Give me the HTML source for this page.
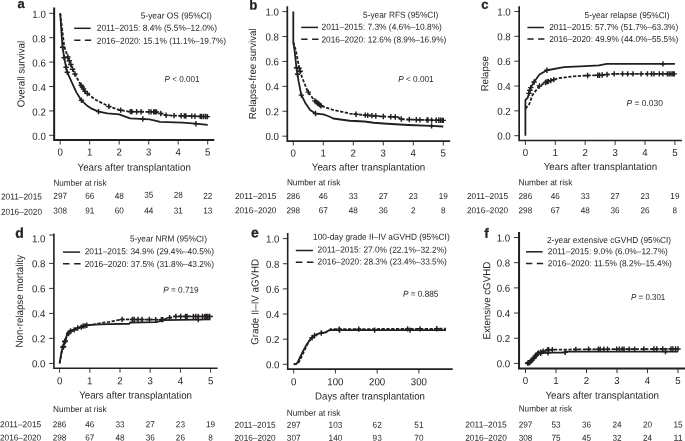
<!DOCTYPE html>
<html lang="en">
<head>
<meta charset="utf-8">
<title>Survival outcomes by transplantation period</title>
<style>
html,body{margin:0;padding:0;background:#fff;}
body{width:685px;height:441px;overflow:hidden;}
svg{display:block;}
svg text{font-family:"Liberation Sans",Arial,Helvetica,sans-serif;fill:#231f20;text-rendering:geometricPrecision;}
</style>
</head>
<body>
<svg width="685" height="441" viewBox="0 0 685 441">
<rect x="0" y="0" width="685" height="441" fill="#ffffff"/>
<g id="panel-a">
<path d="M54.15 7.50V139.90H214.30" fill="none" stroke="#231f20" stroke-width="2.0" stroke-linejoin="miter"/>
<path d="M49.15 135.30H54.15M49.15 110.90H54.15M49.15 86.50H54.15M49.15 62.10H54.15M49.15 37.70H54.15M49.15 13.30H54.15M60.20 139.90V144.50M89.70 139.90V144.50M119.20 139.90V144.50M148.70 139.90V144.50M178.20 139.90V144.50M207.70 139.90V144.50" fill="none" stroke="#231f20" stroke-width="0.9"/>
<text x="32.37" y="139.80" font-size="10.2" textLength="13.48" lengthAdjust="spacingAndGlyphs" transform="rotate(0.03 32.37 139.80)">0.0</text>
<text x="32.37" y="115.40" font-size="10.2" textLength="13.48" lengthAdjust="spacingAndGlyphs" transform="rotate(0.03 32.37 115.40)">0.2</text>
<text x="32.37" y="91.00" font-size="10.2" textLength="13.48" lengthAdjust="spacingAndGlyphs" transform="rotate(0.03 32.37 91.00)">0.4</text>
<text x="32.37" y="66.60" font-size="10.2" textLength="13.48" lengthAdjust="spacingAndGlyphs" transform="rotate(0.03 32.37 66.60)">0.6</text>
<text x="32.37" y="42.20" font-size="10.2" textLength="13.48" lengthAdjust="spacingAndGlyphs" transform="rotate(0.03 32.37 42.20)">0.8</text>
<text x="32.37" y="17.80" font-size="10.2" textLength="13.48" lengthAdjust="spacingAndGlyphs" transform="rotate(0.03 32.37 17.80)">1.0</text>
<text x="57.50" y="155.60" font-size="10.2" textLength="5.39" lengthAdjust="spacingAndGlyphs" transform="rotate(0.03 57.50 155.60)">0</text>
<text x="87.00" y="155.60" font-size="10.2" textLength="5.39" lengthAdjust="spacingAndGlyphs" transform="rotate(0.03 87.00 155.60)">1</text>
<text x="116.50" y="155.60" font-size="10.2" textLength="5.39" lengthAdjust="spacingAndGlyphs" transform="rotate(0.03 116.50 155.60)">2</text>
<text x="146.00" y="155.60" font-size="10.2" textLength="5.39" lengthAdjust="spacingAndGlyphs" transform="rotate(0.03 146.00 155.60)">3</text>
<text x="175.50" y="155.60" font-size="10.2" textLength="5.39" lengthAdjust="spacingAndGlyphs" transform="rotate(0.03 175.50 155.60)">4</text>
<text x="205.00" y="155.60" font-size="10.2" textLength="5.39" lengthAdjust="spacingAndGlyphs" transform="rotate(0.03 205.00 155.60)">5</text>
<path d="M60.20 13.30L62.41 46.24L64.21 57.71L66.90 71.37L71.70 82.23L76.43 92.36L81.15 100.04L86.75 105.41L92.21 108.95L98.55 111.63L107.40 113.34L119.20 114.32L130.12 118.40L149.58 119.32L160.21 121.94L182.62 122.61L195.61 123.65L207.70 124.93" fill="none" stroke="#231f20" stroke-width="1.8" stroke-linejoin="round"/>
<path d="M62.56 44.48v5.4M59.86 47.18h5.4M64.21 55.01v5.4M61.51 57.71h5.4M66.10 64.62v5.4M63.40 67.32h5.4M67.28 69.54v5.4M64.58 72.24h5.4M81.44 97.62v5.4M78.74 100.32h5.4M98.55 108.93v5.4M95.85 111.63h5.4M142.80 116.30v5.4M140.10 119.00h5.4M195.90 120.98v5.4M193.20 123.68h5.4" fill="none" stroke="#231f20" stroke-width="1.45"/>
<path d="M60.20 13.30L64.21 46.24L67.58 56.24L72.89 69.91L78.49 80.89L85.28 91.87L94.72 99.31L108.88 106.51L119.20 109.92L130.12 111.63L156.37 111.88L161.98 113.95L166.69 115.41L184.10 115.90L207.70 116.63" fill="none" stroke="#231f20" stroke-width="1.8" stroke-linejoin="round" stroke-dasharray="3.2 1.6"/>
<path d="M67.87 54.30v5.4M65.17 57.00h5.4M69.34 58.10v5.4M66.64 60.80h5.4M70.82 61.89v5.4M68.12 64.59h5.4M72.59 66.45v5.4M69.89 69.15h5.4M74.95 71.25v5.4M72.25 73.95h5.4M81.15 82.48v5.4M78.45 85.18h5.4M82.33 84.39v5.4M79.62 87.09h5.4M83.50 86.30v5.4M80.80 89.00h5.4M84.98 88.69v5.4M82.28 91.39h5.4M87.34 90.80v5.4M84.64 93.50h5.4M108.88 103.81v5.4M106.17 106.51h5.4M120.67 107.45v5.4M117.97 110.15h5.4M130.41 108.93v5.4M127.71 111.63h5.4M131.88 108.95v5.4M129.19 111.65h5.4M136.61 108.99v5.4M133.91 111.69h5.4M141.03 109.03v5.4M138.33 111.73h5.4M149.00 109.11v5.4M146.30 111.81h5.4M151.06 109.13v5.4M148.36 111.83h5.4M153.72 109.15v5.4M151.02 111.85h5.4M154.89 109.16v5.4M152.19 111.86h5.4M156.37 109.18v5.4M153.67 111.88h5.4M160.80 110.81v5.4M158.10 113.51h5.4M166.11 112.53v5.4M163.41 115.23h5.4M174.07 112.92v5.4M171.37 115.62h5.4M181.15 113.12v5.4M178.45 115.82h5.4M184.39 113.21v5.4M181.69 115.91h5.4M185.87 113.26v5.4M183.17 115.96h5.4M191.77 113.44v5.4M189.07 116.14h5.4M195.01 113.54v5.4M192.31 116.24h5.4M200.32 113.71v5.4M197.62 116.41h5.4M201.50 113.74v5.4M198.81 116.44h5.4M203.57 113.81v5.4M200.87 116.51h5.4M205.63 113.87v5.4M202.94 116.57h5.4M207.41 113.92v5.4M204.71 116.62h5.4" fill="none" stroke="#231f20" stroke-width="1.45"/>
<text x="17.50" y="8.00" font-size="13" font-weight="bold" transform="rotate(0.03 17.50 8.00)" stroke="#231f20" stroke-width="0.25">a</text>
<text x="24.40" y="74.00" font-size="10.2" text-anchor="middle" textLength="66.30" lengthAdjust="spacingAndGlyphs" transform="rotate(-89.97 24.40 74.00)">Overall survival</text>
<text x="77.60" y="170.80" font-size="10.2" textLength="113.20" lengthAdjust="spacingAndGlyphs" transform="rotate(0.03 77.60 170.80)">Years after transplantation</text>
<text x="140.70" y="18.40" font-size="8.7" textLength="71.20" lengthAdjust="spacingAndGlyphs" transform="rotate(0.03 140.70 18.40)">5-year OS (95%CI)</text>
<text x="96.80" y="30.80" font-size="8.7" textLength="120.30" lengthAdjust="spacingAndGlyphs" transform="rotate(0.03 96.80 30.80)">2011–2015: 8.4% (5.5%–12.0%)</text>
<text x="96.80" y="43.70" font-size="8.7" textLength="129.30" lengthAdjust="spacingAndGlyphs" transform="rotate(0.03 96.80 43.70)">2016–2020: 15.1% (11.1%–19.7%)</text>
<path d="M74.20 28.30H90.70" stroke="#231f20" stroke-width="1.5" fill="none"/>
<path d="M74.20 40.20H80.47M84.92 40.20H91.20" stroke="#231f20" stroke-width="1.5" fill="none"/>
<text x="164.60" y="81.90" font-size="8.7" textLength="34.90" lengthAdjust="spacingAndGlyphs" transform="rotate(0.03 164.60 81.90)"><tspan font-style="italic">P</tspan> &lt; 0.001</text>
<text x="53.40" y="185.70" font-size="8.6" textLength="53.10" lengthAdjust="spacingAndGlyphs" transform="rotate(0.03 53.40 185.70)">Number at risk</text>
<text x="0.90" y="199.40" font-size="8.6" textLength="41.10" lengthAdjust="spacingAndGlyphs" transform="rotate(0.03 0.90 199.40)">2011–2015</text>
<text x="53.36" y="198.70" font-size="8.6" textLength="13.68" lengthAdjust="spacingAndGlyphs" transform="rotate(0.03 53.36 198.70)">297</text>
<text x="85.14" y="198.70" font-size="8.6" textLength="9.12" lengthAdjust="spacingAndGlyphs" transform="rotate(0.03 85.14 198.70)">66</text>
<text x="114.64" y="198.70" font-size="8.6" textLength="9.12" lengthAdjust="spacingAndGlyphs" transform="rotate(0.03 114.64 198.70)">48</text>
<text x="144.14" y="197.70" font-size="8.6" textLength="9.12" lengthAdjust="spacingAndGlyphs" transform="rotate(0.03 144.14 197.70)">35</text>
<text x="173.64" y="197.70" font-size="8.6" textLength="9.12" lengthAdjust="spacingAndGlyphs" transform="rotate(0.03 173.64 197.70)">28</text>
<text x="203.14" y="198.70" font-size="8.6" textLength="9.12" lengthAdjust="spacingAndGlyphs" transform="rotate(0.03 203.14 198.70)">22</text>
<text x="0.90" y="214.80" font-size="8.6" textLength="41.10" lengthAdjust="spacingAndGlyphs" transform="rotate(0.03 0.90 214.80)">2016–2020</text>
<text x="53.36" y="213.60" font-size="8.6" textLength="13.68" lengthAdjust="spacingAndGlyphs" transform="rotate(0.03 53.36 213.60)">308</text>
<text x="85.14" y="213.60" font-size="8.6" textLength="9.12" lengthAdjust="spacingAndGlyphs" transform="rotate(0.03 85.14 213.60)">91</text>
<text x="114.64" y="213.60" font-size="8.6" textLength="9.12" lengthAdjust="spacingAndGlyphs" transform="rotate(0.03 114.64 213.60)">60</text>
<text x="144.14" y="213.60" font-size="8.6" textLength="9.12" lengthAdjust="spacingAndGlyphs" transform="rotate(0.03 144.14 213.60)">44</text>
<text x="173.64" y="213.60" font-size="8.6" textLength="9.12" lengthAdjust="spacingAndGlyphs" transform="rotate(0.03 173.64 213.60)">31</text>
<text x="203.14" y="213.60" font-size="8.6" textLength="9.12" lengthAdjust="spacingAndGlyphs" transform="rotate(0.03 203.14 213.60)">13</text>
</g>
<g id="panel-b">
<path d="M287.30 6.30V141.00H450.20" fill="none" stroke="#231f20" stroke-width="1.75" stroke-linejoin="miter"/>
<path d="M282.43 136.20H287.30M282.43 111.28H287.30M282.43 86.36H287.30M282.43 61.44H287.30M282.43 36.52H287.30M282.43 11.60H287.30M293.30 141.00V145.47M323.30 141.00V145.47M353.30 141.00V145.47M383.30 141.00V145.47M413.30 141.00V145.47M443.30 141.00V145.47" fill="none" stroke="#231f20" stroke-width="0.9"/>
<text x="265.42" y="140.10" font-size="10.2" textLength="13.48" lengthAdjust="spacingAndGlyphs" transform="rotate(0.03 265.42 140.10)">0.0</text>
<text x="265.42" y="115.18" font-size="10.2" textLength="13.48" lengthAdjust="spacingAndGlyphs" transform="rotate(0.03 265.42 115.18)">0.2</text>
<text x="265.42" y="90.26" font-size="10.2" textLength="13.48" lengthAdjust="spacingAndGlyphs" transform="rotate(0.03 265.42 90.26)">0.4</text>
<text x="265.42" y="65.34" font-size="10.2" textLength="13.48" lengthAdjust="spacingAndGlyphs" transform="rotate(0.03 265.42 65.34)">0.6</text>
<text x="265.42" y="40.42" font-size="10.2" textLength="13.48" lengthAdjust="spacingAndGlyphs" transform="rotate(0.03 265.42 40.42)">0.8</text>
<text x="265.42" y="15.50" font-size="10.2" textLength="13.48" lengthAdjust="spacingAndGlyphs" transform="rotate(0.03 265.42 15.50)">1.0</text>
<text x="290.60" y="156.40" font-size="10.2" textLength="5.39" lengthAdjust="spacingAndGlyphs" transform="rotate(0.03 290.60 156.40)">0</text>
<text x="320.60" y="156.40" font-size="10.2" textLength="5.39" lengthAdjust="spacingAndGlyphs" transform="rotate(0.03 320.60 156.40)">1</text>
<text x="350.60" y="156.40" font-size="10.2" textLength="5.39" lengthAdjust="spacingAndGlyphs" transform="rotate(0.03 350.60 156.40)">2</text>
<text x="380.60" y="156.40" font-size="10.2" textLength="5.39" lengthAdjust="spacingAndGlyphs" transform="rotate(0.03 380.60 156.40)">3</text>
<text x="410.60" y="156.40" font-size="10.2" textLength="5.39" lengthAdjust="spacingAndGlyphs" transform="rotate(0.03 410.60 156.40)">4</text>
<text x="440.60" y="156.40" font-size="10.2" textLength="5.39" lengthAdjust="spacingAndGlyphs" transform="rotate(0.03 440.60 156.40)">5</text>
<path d="M293.30 11.60L293.30 42.13L294.50 50.23L296.51 67.79L298.61 81.38L301.31 94.96L305.39 103.06L310.10 109.91L315.50 113.52L323.30 114.39L328.70 116.26L333.20 118.51L349.70 120.75L364.40 121.50L373.70 122.74L387.20 123.74L408.50 124.99L431.30 125.86L443.30 126.48" fill="none" stroke="#231f20" stroke-width="1.8" stroke-linejoin="round"/>
<path d="M296.51 65.09v5.4M293.81 67.79h5.4M297.50 71.50v5.4M294.80 74.20h5.4M301.40 92.44v5.4M298.70 95.14h5.4M315.50 110.82v5.4M312.80 113.52h5.4M431.60 123.17v5.4M428.90 125.87h5.4" fill="none" stroke="#231f20" stroke-width="1.45"/>
<path d="M293.30 42.13L295.79 50.23L299.21 67.79L302.00 77.26L307.40 90.85L314.21 100.32L320.99 105.80L331.91 109.54L349.70 113.52L365.00 115.14L382.10 116.39L397.85 117.14L401.90 119.38L426.20 120.00L443.30 120.38" fill="none" stroke="#231f20" stroke-width="1.8" stroke-linejoin="round" stroke-dasharray="3.2 1.6"/>
<path d="M299.30 65.40v5.4M296.60 68.10h5.4M300.20 68.45v5.4M297.50 71.15h5.4M308.30 89.40v5.4M305.60 92.10h5.4M314.90 98.17v5.4M312.20 100.87h5.4M316.40 99.39v5.4M313.70 102.09h5.4M317.90 100.60v5.4M315.20 103.30h5.4M319.40 101.81v5.4M316.70 104.51h5.4M320.90 103.02v5.4M318.20 105.72h5.4M356.00 111.49v5.4M353.30 114.19h5.4M365.30 112.46v5.4M362.60 115.16h5.4M367.70 112.64v5.4M365.00 115.34h5.4M371.90 112.95v5.4M369.20 115.65h5.4M375.80 113.23v5.4M373.10 115.93h5.4M383.30 113.75v5.4M380.60 116.45h5.4M390.80 114.10v5.4M388.10 116.80h5.4M395.30 114.32v5.4M392.60 117.02h5.4M401.30 116.35v5.4M398.60 119.05h5.4M409.40 116.87v5.4M406.70 119.57h5.4M416.30 117.05v5.4M413.60 119.75h5.4M419.90 117.14v5.4M417.20 119.84h5.4M427.10 117.32v5.4M424.40 120.02h5.4M428.00 117.34v5.4M425.30 120.04h5.4M431.60 117.42v5.4M428.90 120.12h5.4M436.10 117.52v5.4M433.40 120.22h5.4M438.80 117.58v5.4M436.10 120.28h5.4M440.60 117.62v5.4M437.90 120.32h5.4M442.40 117.66v5.4M439.70 120.36h5.4M443.30 117.68v5.4M440.60 120.38h5.4" fill="none" stroke="#231f20" stroke-width="1.45"/>
<text x="249.30" y="9.50" font-size="13.3" font-weight="bold" transform="rotate(0.03 249.30 9.50)" stroke="#231f20" stroke-width="0.25">b</text>
<text x="256.00" y="73.80" font-size="10.2" text-anchor="middle" textLength="90.80" lengthAdjust="spacingAndGlyphs" transform="rotate(-89.97 256.00 73.80)">Relapse-free survival</text>
<text x="311.80" y="170.40" font-size="10.2" textLength="113.50" lengthAdjust="spacingAndGlyphs" transform="rotate(0.03 311.80 170.40)">Years after transplantation</text>
<text x="363.00" y="17.70" font-size="8.7" textLength="75.40" lengthAdjust="spacingAndGlyphs" transform="rotate(0.03 363.00 17.70)">5-year RFS (95%CI)</text>
<text x="321.50" y="29.80" font-size="8.7" textLength="120.40" lengthAdjust="spacingAndGlyphs" transform="rotate(0.03 321.50 29.80)">2011–2015: 7.3% (4.6%–10.8%)</text>
<text x="321.50" y="42.50" font-size="8.7" textLength="124.80" lengthAdjust="spacingAndGlyphs" transform="rotate(0.03 321.50 42.50)">2016–2020: 12.6% (8.9%–16.9%)</text>
<path d="M301.20 27.40H318.00" stroke="#231f20" stroke-width="1.5" fill="none"/>
<path d="M301.20 39.20H307.58M312.12 39.20H318.50" stroke="#231f20" stroke-width="1.5" fill="none"/>
<text x="398.30" y="81.90" font-size="8.7" textLength="35.40" lengthAdjust="spacingAndGlyphs" transform="rotate(0.03 398.30 81.90)"><tspan font-style="italic">P</tspan> &lt; 0.001</text>
<text x="286.90" y="185.30" font-size="8.6" textLength="53.50" lengthAdjust="spacingAndGlyphs" transform="rotate(0.03 286.90 185.30)">Number at risk</text>
<text x="234.90" y="198.90" font-size="8.6" textLength="41.50" lengthAdjust="spacingAndGlyphs" transform="rotate(0.03 234.90 198.90)">2011–2015</text>
<text x="286.46" y="198.90" font-size="8.6" textLength="13.68" lengthAdjust="spacingAndGlyphs" transform="rotate(0.03 286.46 198.90)">286</text>
<text x="318.74" y="198.90" font-size="8.6" textLength="9.12" lengthAdjust="spacingAndGlyphs" transform="rotate(0.03 318.74 198.90)">46</text>
<text x="348.74" y="198.90" font-size="8.6" textLength="9.12" lengthAdjust="spacingAndGlyphs" transform="rotate(0.03 348.74 198.90)">33</text>
<text x="378.74" y="198.90" font-size="8.6" textLength="9.12" lengthAdjust="spacingAndGlyphs" transform="rotate(0.03 378.74 198.90)">27</text>
<text x="408.74" y="198.90" font-size="8.6" textLength="9.12" lengthAdjust="spacingAndGlyphs" transform="rotate(0.03 408.74 198.90)">23</text>
<text x="438.74" y="198.90" font-size="8.6" textLength="9.12" lengthAdjust="spacingAndGlyphs" transform="rotate(0.03 438.74 198.90)">19</text>
<text x="234.90" y="213.20" font-size="8.6" textLength="41.50" lengthAdjust="spacingAndGlyphs" transform="rotate(0.03 234.90 213.20)">2016–2020</text>
<text x="286.46" y="213.20" font-size="8.6" textLength="13.68" lengthAdjust="spacingAndGlyphs" transform="rotate(0.03 286.46 213.20)">298</text>
<text x="318.74" y="213.20" font-size="8.6" textLength="9.12" lengthAdjust="spacingAndGlyphs" transform="rotate(0.03 318.74 213.20)">67</text>
<text x="348.74" y="213.20" font-size="8.6" textLength="9.12" lengthAdjust="spacingAndGlyphs" transform="rotate(0.03 348.74 213.20)">48</text>
<text x="378.74" y="213.20" font-size="8.6" textLength="9.12" lengthAdjust="spacingAndGlyphs" transform="rotate(0.03 378.74 213.20)">36</text>
<text x="411.02" y="213.20" font-size="8.6" textLength="4.56" lengthAdjust="spacingAndGlyphs" transform="rotate(0.03 411.02 213.20)">2</text>
<text x="441.02" y="213.20" font-size="8.6" textLength="4.56" lengthAdjust="spacingAndGlyphs" transform="rotate(0.03 441.02 213.20)">8</text>
</g>
<g id="panel-c">
<path d="M519.15 6.30V140.50H681.90" fill="none" stroke="#231f20" stroke-width="1.7" stroke-linejoin="miter"/>
<path d="M514.30 135.70H519.15M514.30 110.86H519.15M514.30 86.02H519.15M514.30 61.18H519.15M514.30 36.34H519.15M514.30 11.50H519.15M525.40 140.50V144.95M555.30 140.50V144.95M585.20 140.50V144.95M615.10 140.50V144.95M645.00 140.50V144.95M674.90 140.50V144.95" fill="none" stroke="#231f20" stroke-width="0.9"/>
<text x="497.27" y="139.60" font-size="10.2" textLength="13.48" lengthAdjust="spacingAndGlyphs" transform="rotate(0.03 497.27 139.60)">0.0</text>
<text x="497.27" y="114.76" font-size="10.2" textLength="13.48" lengthAdjust="spacingAndGlyphs" transform="rotate(0.03 497.27 114.76)">0.2</text>
<text x="497.27" y="89.92" font-size="10.2" textLength="13.48" lengthAdjust="spacingAndGlyphs" transform="rotate(0.03 497.27 89.92)">0.4</text>
<text x="497.27" y="65.08" font-size="10.2" textLength="13.48" lengthAdjust="spacingAndGlyphs" transform="rotate(0.03 497.27 65.08)">0.6</text>
<text x="497.27" y="40.24" font-size="10.2" textLength="13.48" lengthAdjust="spacingAndGlyphs" transform="rotate(0.03 497.27 40.24)">0.8</text>
<text x="497.27" y="15.40" font-size="10.2" textLength="13.48" lengthAdjust="spacingAndGlyphs" transform="rotate(0.03 497.27 15.40)">1.0</text>
<text x="522.70" y="156.00" font-size="10.2" textLength="5.39" lengthAdjust="spacingAndGlyphs" transform="rotate(0.03 522.70 156.00)">0</text>
<text x="552.60" y="156.00" font-size="10.2" textLength="5.39" lengthAdjust="spacingAndGlyphs" transform="rotate(0.03 552.60 156.00)">1</text>
<text x="582.50" y="156.00" font-size="10.2" textLength="5.39" lengthAdjust="spacingAndGlyphs" transform="rotate(0.03 582.50 156.00)">2</text>
<text x="612.40" y="156.00" font-size="10.2" textLength="5.39" lengthAdjust="spacingAndGlyphs" transform="rotate(0.03 612.40 156.00)">3</text>
<text x="642.30" y="156.00" font-size="10.2" textLength="5.39" lengthAdjust="spacingAndGlyphs" transform="rotate(0.03 642.30 156.00)">4</text>
<text x="672.20" y="156.00" font-size="10.2" textLength="5.39" lengthAdjust="spacingAndGlyphs" transform="rotate(0.03 672.20 156.00)">5</text>
<path d="M525.40 135.70L525.40 100.18L527.79 97.57L530.48 88.13L534.07 82.05L539.45 74.59L546.93 70.25L563.97 67.14L585.20 66.15L598.95 65.40L606.73 63.91L674.90 63.91" fill="none" stroke="#231f20" stroke-width="1.8" stroke-linejoin="round"/>
<path d="M528.99 90.68v5.4M526.29 93.38h5.4M529.88 87.53v5.4M527.18 90.23h5.4M530.78 84.92v5.4M528.08 87.62h5.4M534.07 79.35v5.4M531.37 82.05h5.4M546.93 67.55v5.4M544.23 70.25h5.4M662.94 61.21v5.4M660.24 63.91h5.4" fill="none" stroke="#231f20" stroke-width="1.45"/>
<path d="M525.40 108.62L529.20 104.28L532.58 94.84L539.45 86.02L546.33 82.05L558.29 78.20L573.24 76.33L586.99 75.46L600.15 75.21L614.20 73.85L674.90 73.85" fill="none" stroke="#231f20" stroke-width="1.8" stroke-linejoin="round" stroke-dasharray="3.2 1.6"/>
<path d="M539.45 83.32v5.4M536.75 86.02h5.4M545.43 79.86v5.4M542.73 82.56h5.4M546.93 79.15v5.4M544.23 81.85h5.4M548.42 78.67v5.4M545.72 81.37h5.4M550.81 77.90v5.4M548.11 80.60h5.4M553.80 76.94v5.4M551.10 79.64h5.4M587.59 72.75v5.4M584.89 75.45h5.4M597.76 72.56v5.4M595.06 75.26h5.4M599.55 72.53v5.4M596.85 75.23h5.4M602.24 72.31v5.4M599.54 75.01h5.4M607.03 71.85v5.4M604.33 74.55h5.4M614.20 71.15v5.4M611.50 73.85h5.4M622.57 71.15v5.4M619.87 73.85h5.4M627.66 71.15v5.4M624.96 73.85h5.4M633.04 71.15v5.4M630.34 73.85h5.4M641.11 71.15v5.4M638.41 73.85h5.4M647.39 71.15v5.4M644.69 73.85h5.4M651.58 71.15v5.4M648.88 73.85h5.4M653.97 71.15v5.4M651.27 73.85h5.4M659.35 71.15v5.4M656.65 73.85h5.4M662.94 71.15v5.4M660.24 73.85h5.4M667.42 71.15v5.4M664.72 73.85h5.4M669.22 71.15v5.4M666.52 73.85h5.4M671.01 71.15v5.4M668.31 73.85h5.4M672.81 71.15v5.4M670.11 73.85h5.4M674.30 71.15v5.4M671.60 73.85h5.4" fill="none" stroke="#231f20" stroke-width="1.45"/>
<text x="481.30" y="8.80" font-size="13" font-weight="bold" transform="rotate(0.03 481.30 8.80)" stroke="#231f20" stroke-width="0.25">c</text>
<text x="488.30" y="73.70" font-size="10.2" text-anchor="middle" textLength="35.30" lengthAdjust="spacingAndGlyphs" transform="rotate(-89.97 488.30 73.70)">Relapse</text>
<text x="543.70" y="170.00" font-size="10.2" textLength="113.50" lengthAdjust="spacingAndGlyphs" transform="rotate(0.03 543.70 170.00)">Years after transplantation</text>
<text x="584.60" y="18.10" font-size="8.7" textLength="85.00" lengthAdjust="spacingAndGlyphs" transform="rotate(0.03 584.60 18.10)">5-year relapse (95%CI)</text>
<text x="549.20" y="29.90" font-size="8.7" textLength="129.10" lengthAdjust="spacingAndGlyphs" transform="rotate(0.03 549.20 29.90)">2011–2015: 57.7% (51.7%–63.3%)</text>
<text x="549.20" y="42.00" font-size="8.7" textLength="129.10" lengthAdjust="spacingAndGlyphs" transform="rotate(0.03 549.20 42.00)">2016–2020: 49.9% (44.0%–55.5%)</text>
<path d="M527.40 27.50H543.90" stroke="#231f20" stroke-width="1.5" fill="none"/>
<path d="M527.40 39.00H533.67M538.12 39.00H544.40" stroke="#231f20" stroke-width="1.5" fill="none"/>
<text x="626.60" y="105.90" font-size="8.7" textLength="36.30" lengthAdjust="spacingAndGlyphs" transform="rotate(0.03 626.60 105.90)"><tspan font-style="italic">P</tspan> = 0.030</text>
<text x="518.40" y="185.30" font-size="8.6" textLength="54.00" lengthAdjust="spacingAndGlyphs" transform="rotate(0.03 518.40 185.30)">Number at risk</text>
<text x="466.90" y="198.90" font-size="8.6" textLength="41.30" lengthAdjust="spacingAndGlyphs" transform="rotate(0.03 466.90 198.90)">2011–2015</text>
<text x="518.56" y="198.90" font-size="8.6" textLength="13.68" lengthAdjust="spacingAndGlyphs" transform="rotate(0.03 518.56 198.90)">286</text>
<text x="550.74" y="198.90" font-size="8.6" textLength="9.12" lengthAdjust="spacingAndGlyphs" transform="rotate(0.03 550.74 198.90)">46</text>
<text x="580.64" y="198.90" font-size="8.6" textLength="9.12" lengthAdjust="spacingAndGlyphs" transform="rotate(0.03 580.64 198.90)">33</text>
<text x="610.54" y="198.90" font-size="8.6" textLength="9.12" lengthAdjust="spacingAndGlyphs" transform="rotate(0.03 610.54 198.90)">27</text>
<text x="640.44" y="198.90" font-size="8.6" textLength="9.12" lengthAdjust="spacingAndGlyphs" transform="rotate(0.03 640.44 198.90)">23</text>
<text x="670.34" y="198.90" font-size="8.6" textLength="9.12" lengthAdjust="spacingAndGlyphs" transform="rotate(0.03 670.34 198.90)">19</text>
<text x="466.90" y="213.20" font-size="8.6" textLength="41.30" lengthAdjust="spacingAndGlyphs" transform="rotate(0.03 466.90 213.20)">2016–2020</text>
<text x="518.56" y="213.20" font-size="8.6" textLength="13.68" lengthAdjust="spacingAndGlyphs" transform="rotate(0.03 518.56 213.20)">298</text>
<text x="550.74" y="213.20" font-size="8.6" textLength="9.12" lengthAdjust="spacingAndGlyphs" transform="rotate(0.03 550.74 213.20)">67</text>
<text x="580.64" y="213.20" font-size="8.6" textLength="9.12" lengthAdjust="spacingAndGlyphs" transform="rotate(0.03 580.64 213.20)">48</text>
<text x="610.54" y="213.20" font-size="8.6" textLength="9.12" lengthAdjust="spacingAndGlyphs" transform="rotate(0.03 610.54 213.20)">36</text>
<text x="640.44" y="213.20" font-size="8.6" textLength="9.12" lengthAdjust="spacingAndGlyphs" transform="rotate(0.03 640.44 213.20)">26</text>
<text x="672.62" y="213.20" font-size="8.6" textLength="4.56" lengthAdjust="spacingAndGlyphs" transform="rotate(0.03 672.62 213.20)">8</text>
</g>
<g id="panel-d">
<path d="M53.90 233.40V368.30H217.60" fill="none" stroke="#231f20" stroke-width="1.6" stroke-linejoin="miter"/>
<path d="M49.10 363.40H53.90M49.10 338.40H53.90M49.10 313.40H53.90M49.10 288.40H53.90M49.10 263.40H53.90M49.10 235.00H53.90M59.60 368.30V372.70M89.80 368.30V372.70M120.00 368.30V372.70M150.20 368.30V372.70M180.40 368.30V372.70M210.60 368.30V372.70" fill="none" stroke="#231f20" stroke-width="0.9"/>
<text x="31.92" y="367.30" font-size="10.2" textLength="13.48" lengthAdjust="spacingAndGlyphs" transform="rotate(0.03 31.92 367.30)">0.0</text>
<text x="31.92" y="342.30" font-size="10.2" textLength="13.48" lengthAdjust="spacingAndGlyphs" transform="rotate(0.03 31.92 342.30)">0.2</text>
<text x="31.92" y="317.30" font-size="10.2" textLength="13.48" lengthAdjust="spacingAndGlyphs" transform="rotate(0.03 31.92 317.30)">0.4</text>
<text x="31.92" y="292.30" font-size="10.2" textLength="13.48" lengthAdjust="spacingAndGlyphs" transform="rotate(0.03 31.92 292.30)">0.6</text>
<text x="31.92" y="267.30" font-size="10.2" textLength="13.48" lengthAdjust="spacingAndGlyphs" transform="rotate(0.03 31.92 267.30)">0.8</text>
<text x="31.92" y="242.30" font-size="10.2" textLength="13.48" lengthAdjust="spacingAndGlyphs" transform="rotate(0.03 31.92 242.30)">1.0</text>
<text x="56.90" y="384.20" font-size="10.2" textLength="5.39" lengthAdjust="spacingAndGlyphs" transform="rotate(0.03 56.90 384.20)">0</text>
<text x="87.10" y="384.20" font-size="10.2" textLength="5.39" lengthAdjust="spacingAndGlyphs" transform="rotate(0.03 87.10 384.20)">1</text>
<text x="117.30" y="384.20" font-size="10.2" textLength="5.39" lengthAdjust="spacingAndGlyphs" transform="rotate(0.03 117.30 384.20)">2</text>
<text x="147.50" y="384.20" font-size="10.2" textLength="5.39" lengthAdjust="spacingAndGlyphs" transform="rotate(0.03 147.50 384.20)">3</text>
<text x="177.70" y="384.20" font-size="10.2" textLength="5.39" lengthAdjust="spacingAndGlyphs" transform="rotate(0.03 177.70 384.20)">4</text>
<text x="207.90" y="384.20" font-size="10.2" textLength="5.39" lengthAdjust="spacingAndGlyphs" transform="rotate(0.03 207.90 384.20)">5</text>
<path d="M59.60 363.40L61.71 350.90L64.73 341.65L67.75 332.40L74.10 329.27L84.67 325.40L94.03 324.65L107.92 324.15L129.36 323.77L129.97 322.52L156.54 322.15L162.88 320.15L196.71 319.65L210.60 319.40" fill="none" stroke="#231f20" stroke-width="1.8" stroke-linejoin="round"/>
<path d="M62.92 344.50v5.4M60.22 347.20h5.4M64.73 338.95v5.4M62.03 341.65h5.4M70.47 328.36v5.4M67.77 331.06h5.4M77.72 325.25v5.4M75.02 327.95h5.4M83.16 323.25v5.4M80.46 325.95h5.4M86.78 322.53v5.4M84.08 325.23h5.4M198.22 316.92v5.4M195.52 319.62h5.4" fill="none" stroke="#231f20" stroke-width="1.45"/>
<path d="M59.60 363.40L61.71 352.15L64.73 342.77L67.75 334.02L74.10 329.90L84.67 325.90L94.03 324.40L98.56 323.52L109.43 321.77L122.11 319.40L162.88 319.65L174.36 316.40L212.71 316.40" fill="none" stroke="#231f20" stroke-width="1.8" stroke-linejoin="round" stroke-dasharray="3.2 1.6"/>
<path d="M63.53 343.82v5.4M60.83 346.52h5.4M65.34 338.32v5.4M62.64 341.02h5.4M68.66 330.74v5.4M65.96 333.44h5.4M74.10 327.20v5.4M71.40 329.90h5.4M81.34 324.46v5.4M78.64 327.16h5.4M84.97 323.15v5.4M82.27 325.85h5.4M122.11 316.70v5.4M119.41 319.40h5.4M132.38 316.76v5.4M129.68 319.46h5.4M134.19 316.77v5.4M131.49 319.47h5.4M138.12 316.80v5.4M135.42 319.50h5.4M142.05 316.82v5.4M139.35 319.52h5.4M149.29 316.87v5.4M146.59 319.57h5.4M155.64 316.91v5.4M152.94 319.61h5.4M161.37 316.94v5.4M158.67 319.64h5.4M162.88 316.95v5.4M160.18 319.65h5.4M169.53 315.07v5.4M166.83 317.77h5.4M175.87 313.70v5.4M173.17 316.40h5.4M180.70 313.70v5.4M178.00 316.40h5.4M185.53 313.70v5.4M182.83 316.40h5.4M187.04 313.70v5.4M184.34 316.40h5.4M193.39 313.70v5.4M190.69 316.40h5.4M195.80 313.70v5.4M193.10 316.40h5.4M198.22 313.70v5.4M195.52 316.40h5.4M202.45 313.70v5.4M199.75 316.40h5.4M204.86 313.70v5.4M202.16 316.40h5.4M206.37 313.70v5.4M203.67 316.40h5.4M207.88 313.70v5.4M205.18 316.40h5.4M209.69 313.70v5.4M206.99 316.40h5.4" fill="none" stroke="#231f20" stroke-width="1.45"/>
<text x="15.20" y="237.80" font-size="14" font-weight="bold" transform="rotate(0.03 15.20 237.80)" stroke="#231f20" stroke-width="0.25">d</text>
<text x="22.90" y="301.20" font-size="10.2" text-anchor="middle" textLength="92.50" lengthAdjust="spacingAndGlyphs" transform="rotate(-89.97 22.90 301.20)">Non-relapse mortality</text>
<text x="79.20" y="398.60" font-size="10.2" textLength="112.80" lengthAdjust="spacingAndGlyphs" transform="rotate(0.03 79.20 398.60)">Years after transplantation</text>
<text x="129.90" y="241.60" font-size="8.7" textLength="77.00" lengthAdjust="spacingAndGlyphs" transform="rotate(0.03 129.90 241.60)">5-year NRM (95%CI)</text>
<text x="84.70" y="254.20" font-size="8.7" textLength="129.30" lengthAdjust="spacingAndGlyphs" transform="rotate(0.03 84.70 254.20)">2011–2015: 34.9% (29.4%–40.5%)</text>
<text x="84.70" y="267.00" font-size="8.7" textLength="129.30" lengthAdjust="spacingAndGlyphs" transform="rotate(0.03 84.70 267.00)">2016–2020: 37.5% (31.8%–43.2%)</text>
<path d="M63.00 252.10H80.10" stroke="#231f20" stroke-width="1.5" fill="none"/>
<path d="M63.00 263.70H69.50M74.11 263.70H80.60" stroke="#231f20" stroke-width="1.5" fill="none"/>
<text x="163.30" y="292.80" font-size="8.7" textLength="35.40" lengthAdjust="spacingAndGlyphs" transform="rotate(0.03 163.30 292.80)"><tspan font-style="italic">P</tspan> = 0.719</text>
<text x="53.10" y="412.00" font-size="8.6" textLength="53.40" lengthAdjust="spacingAndGlyphs" transform="rotate(0.03 53.10 412.00)">Number at risk</text>
<text x="0.00" y="427.30" font-size="8.6" textLength="41.20" lengthAdjust="spacingAndGlyphs" transform="rotate(0.03 0.00 427.30)">2011–2015</text>
<text x="52.76" y="427.30" font-size="8.6" textLength="13.68" lengthAdjust="spacingAndGlyphs" transform="rotate(0.03 52.76 427.30)">286</text>
<text x="85.24" y="427.30" font-size="8.6" textLength="9.12" lengthAdjust="spacingAndGlyphs" transform="rotate(0.03 85.24 427.30)">46</text>
<text x="115.44" y="427.30" font-size="8.6" textLength="9.12" lengthAdjust="spacingAndGlyphs" transform="rotate(0.03 115.44 427.30)">33</text>
<text x="145.64" y="427.30" font-size="8.6" textLength="9.12" lengthAdjust="spacingAndGlyphs" transform="rotate(0.03 145.64 427.30)">27</text>
<text x="175.84" y="427.30" font-size="8.6" textLength="9.12" lengthAdjust="spacingAndGlyphs" transform="rotate(0.03 175.84 427.30)">23</text>
<text x="206.04" y="427.30" font-size="8.6" textLength="9.12" lengthAdjust="spacingAndGlyphs" transform="rotate(0.03 206.04 427.30)">19</text>
<text x="0.00" y="440.60" font-size="8.6" textLength="41.20" lengthAdjust="spacingAndGlyphs" transform="rotate(0.03 0.00 440.60)">2016–2020</text>
<text x="52.76" y="440.60" font-size="8.6" textLength="13.68" lengthAdjust="spacingAndGlyphs" transform="rotate(0.03 52.76 440.60)">298</text>
<text x="85.24" y="440.60" font-size="8.6" textLength="9.12" lengthAdjust="spacingAndGlyphs" transform="rotate(0.03 85.24 440.60)">67</text>
<text x="115.44" y="440.60" font-size="8.6" textLength="9.12" lengthAdjust="spacingAndGlyphs" transform="rotate(0.03 115.44 440.60)">48</text>
<text x="145.64" y="440.60" font-size="8.6" textLength="9.12" lengthAdjust="spacingAndGlyphs" transform="rotate(0.03 145.64 440.60)">36</text>
<text x="175.84" y="440.60" font-size="8.6" textLength="9.12" lengthAdjust="spacingAndGlyphs" transform="rotate(0.03 175.84 440.60)">26</text>
<text x="208.32" y="440.60" font-size="8.6" textLength="4.56" lengthAdjust="spacingAndGlyphs" transform="rotate(0.03 208.32 440.60)">8</text>
</g>
<g id="panel-e">
<path d="M287.70 233.00V369.10H452.70" fill="none" stroke="#231f20" stroke-width="1.6" stroke-linejoin="miter"/>
<path d="M282.90 364.30H287.70M282.90 339.16H287.70M282.90 314.02H287.70M282.90 288.88H287.70M282.90 263.74H287.70M282.90 238.60H287.70M293.70 369.10V373.50M335.43 369.10V373.50M377.16 369.10V373.50M418.89 369.10V373.50" fill="none" stroke="#231f20" stroke-width="0.9"/>
<text x="266.02" y="368.20" font-size="10.2" textLength="13.48" lengthAdjust="spacingAndGlyphs" transform="rotate(0.03 266.02 368.20)">0.0</text>
<text x="266.02" y="343.06" font-size="10.2" textLength="13.48" lengthAdjust="spacingAndGlyphs" transform="rotate(0.03 266.02 343.06)">0.2</text>
<text x="266.02" y="317.92" font-size="10.2" textLength="13.48" lengthAdjust="spacingAndGlyphs" transform="rotate(0.03 266.02 317.92)">0.4</text>
<text x="266.02" y="292.78" font-size="10.2" textLength="13.48" lengthAdjust="spacingAndGlyphs" transform="rotate(0.03 266.02 292.78)">0.6</text>
<text x="266.02" y="267.64" font-size="10.2" textLength="13.48" lengthAdjust="spacingAndGlyphs" transform="rotate(0.03 266.02 267.64)">0.8</text>
<text x="266.02" y="242.50" font-size="10.2" textLength="13.48" lengthAdjust="spacingAndGlyphs" transform="rotate(0.03 266.02 242.50)">1.0</text>
<text x="291.00" y="385.30" font-size="10.2" textLength="5.39" lengthAdjust="spacingAndGlyphs" transform="rotate(0.03 291.00 385.30)">0</text>
<text x="327.34" y="385.30" font-size="10.2" textLength="16.18" lengthAdjust="spacingAndGlyphs" transform="rotate(0.03 327.34 385.30)">100</text>
<text x="369.07" y="385.30" font-size="10.2" textLength="16.18" lengthAdjust="spacingAndGlyphs" transform="rotate(0.03 369.07 385.30)">200</text>
<text x="410.80" y="385.30" font-size="10.2" textLength="16.18" lengthAdjust="spacingAndGlyphs" transform="rotate(0.03 410.80 385.30)">300</text>
<path d="M293.70 364.30L296.20 363.80L297.46 362.60L299.12 359.27L301.04 355.25L303.30 350.72L305.63 346.32L307.89 342.68L310.23 339.54L312.48 337.27L314.77 335.39L317.90 334.01L321.24 333.00L325.83 332.30L327.92 330.99L330.42 329.86L335.43 330.11L446.01 330.11" fill="none" stroke="#231f20" stroke-width="1.8" stroke-linejoin="round"/>
<path d="M312.06 334.99v5.4M309.36 337.69h5.4M321.24 330.30v5.4M318.54 333.00h5.4M339.60 327.41v5.4M336.90 330.11h5.4M374.66 327.41v5.4M371.96 330.11h5.4M410.13 327.41v5.4M407.43 330.11h5.4" fill="none" stroke="#231f20" stroke-width="1.45"/>
<path d="M293.70 364.30L297.04 363.80L298.71 362.41L300.38 359.27L302.46 354.87L304.55 350.22L306.64 345.70L308.72 341.93L310.39 339.29L312.48 337.27L314.77 335.39L317.90 334.01L321.24 333.00L325.83 332.30L327.92 330.86L330.42 329.23L446.01 328.73" fill="none" stroke="#231f20" stroke-width="1.8" stroke-linejoin="round" stroke-dasharray="3.2 1.6"/>
<path d="M314.56 332.86v5.4M311.87 335.56h5.4M339.19 326.49v5.4M336.49 329.19h5.4M358.80 326.41v5.4M356.10 329.11h5.4M407.62 326.19v5.4M404.92 328.89h5.4M420.14 326.14v5.4M417.44 328.84h5.4M436.83 326.07v5.4M434.13 328.77h5.4" fill="none" stroke="#231f20" stroke-width="1.45"/>
<text x="250.90" y="237.20" font-size="14" font-weight="bold" transform="rotate(0.03 250.90 237.20)" stroke="#231f20" stroke-width="0.25">e</text>
<text x="258.40" y="301.90" font-size="10.2" text-anchor="middle" textLength="85.70" lengthAdjust="spacingAndGlyphs" transform="rotate(-89.97 258.40 301.90)">Grade II–IV aGVHD</text>
<text x="315.10" y="399.50" font-size="10.2" textLength="109.90" lengthAdjust="spacingAndGlyphs" transform="rotate(0.03 315.10 399.50)">Days after transplantation</text>
<text x="313.10" y="239.70" font-size="8.7" textLength="136.60" lengthAdjust="spacingAndGlyphs" transform="rotate(0.03 313.10 239.70)">100-day grade II–IV aGVHD (95%CI)</text>
<text x="317.60" y="252.60" font-size="8.7" textLength="129.30" lengthAdjust="spacingAndGlyphs" transform="rotate(0.03 317.60 252.60)">2011–2015: 27.0% (22.1%–32.2%)</text>
<text x="317.60" y="264.40" font-size="8.7" textLength="129.30" lengthAdjust="spacingAndGlyphs" transform="rotate(0.03 317.60 264.40)">2016–2020: 28.3% (23.4%–33.5%)</text>
<path d="M295.80 250.50H312.90" stroke="#231f20" stroke-width="1.5" fill="none"/>
<path d="M295.80 262.30H302.30M306.91 262.30H313.40" stroke="#231f20" stroke-width="1.5" fill="none"/>
<text x="403.00" y="296.70" font-size="8.7" textLength="35.40" lengthAdjust="spacingAndGlyphs" transform="rotate(0.03 403.00 296.70)"><tspan font-style="italic">P</tspan> = 0.885</text>
<text x="286.70" y="415.80" font-size="8.6" textLength="53.80" lengthAdjust="spacingAndGlyphs" transform="rotate(0.03 286.70 415.80)">Number at risk</text>
<text x="234.50" y="427.70" font-size="8.6" textLength="41.20" lengthAdjust="spacingAndGlyphs" transform="rotate(0.03 234.50 427.70)">2011–2015</text>
<text x="286.86" y="427.70" font-size="8.6" textLength="13.68" lengthAdjust="spacingAndGlyphs" transform="rotate(0.03 286.86 427.70)">297</text>
<text x="328.59" y="427.70" font-size="8.6" textLength="13.68" lengthAdjust="spacingAndGlyphs" transform="rotate(0.03 328.59 427.70)">103</text>
<text x="372.60" y="427.70" font-size="8.6" textLength="9.12" lengthAdjust="spacingAndGlyphs" transform="rotate(0.03 372.60 427.70)">62</text>
<text x="414.33" y="427.70" font-size="8.6" textLength="9.12" lengthAdjust="spacingAndGlyphs" transform="rotate(0.03 414.33 427.70)">51</text>
<text x="234.50" y="440.70" font-size="8.6" textLength="41.20" lengthAdjust="spacingAndGlyphs" transform="rotate(0.03 234.50 440.70)">2016–2020</text>
<text x="286.86" y="440.70" font-size="8.6" textLength="13.68" lengthAdjust="spacingAndGlyphs" transform="rotate(0.03 286.86 440.70)">307</text>
<text x="328.59" y="440.70" font-size="8.6" textLength="13.68" lengthAdjust="spacingAndGlyphs" transform="rotate(0.03 328.59 440.70)">140</text>
<text x="372.60" y="440.70" font-size="8.6" textLength="9.12" lengthAdjust="spacingAndGlyphs" transform="rotate(0.03 372.60 440.70)">93</text>
<text x="414.33" y="440.70" font-size="8.6" textLength="9.12" lengthAdjust="spacingAndGlyphs" transform="rotate(0.03 414.33 440.70)">70</text>
</g>
<g id="panel-f">
<path d="M519.05 232.10V368.50H685.50" fill="none" stroke="#231f20" stroke-width="2.0" stroke-linejoin="miter"/>
<path d="M514.05 363.40H519.05M514.05 338.22H519.05M514.05 313.04H519.05M514.05 287.86H519.05M514.05 262.68H519.05M514.05 237.50H519.05M525.50 368.50V373.10M556.00 368.50V373.10M586.50 368.50V373.10M617.00 368.50V373.10M647.50 368.50V373.10M678.00 368.50V373.10" fill="none" stroke="#231f20" stroke-width="0.9"/>
<text x="496.67" y="367.30" font-size="10.2" textLength="13.48" lengthAdjust="spacingAndGlyphs" transform="rotate(0.03 496.67 367.30)">0.0</text>
<text x="496.67" y="342.12" font-size="10.2" textLength="13.48" lengthAdjust="spacingAndGlyphs" transform="rotate(0.03 496.67 342.12)">0.2</text>
<text x="496.67" y="316.94" font-size="10.2" textLength="13.48" lengthAdjust="spacingAndGlyphs" transform="rotate(0.03 496.67 316.94)">0.4</text>
<text x="496.67" y="291.76" font-size="10.2" textLength="13.48" lengthAdjust="spacingAndGlyphs" transform="rotate(0.03 496.67 291.76)">0.6</text>
<text x="496.67" y="266.58" font-size="10.2" textLength="13.48" lengthAdjust="spacingAndGlyphs" transform="rotate(0.03 496.67 266.58)">0.8</text>
<text x="496.67" y="241.40" font-size="10.2" textLength="13.48" lengthAdjust="spacingAndGlyphs" transform="rotate(0.03 496.67 241.40)">1.0</text>
<text x="522.80" y="383.90" font-size="10.2" textLength="5.39" lengthAdjust="spacingAndGlyphs" transform="rotate(0.03 522.80 383.90)">0</text>
<text x="553.30" y="383.90" font-size="10.2" textLength="5.39" lengthAdjust="spacingAndGlyphs" transform="rotate(0.03 553.30 383.90)">1</text>
<text x="583.80" y="383.90" font-size="10.2" textLength="5.39" lengthAdjust="spacingAndGlyphs" transform="rotate(0.03 583.80 383.90)">2</text>
<text x="614.30" y="383.90" font-size="10.2" textLength="5.39" lengthAdjust="spacingAndGlyphs" transform="rotate(0.03 614.30 383.90)">3</text>
<text x="644.80" y="383.90" font-size="10.2" textLength="5.39" lengthAdjust="spacingAndGlyphs" transform="rotate(0.03 644.80 383.90)">4</text>
<text x="675.30" y="383.90" font-size="10.2" textLength="5.39" lengthAdjust="spacingAndGlyphs" transform="rotate(0.03 675.30 383.90)">5</text>
<path d="M525.50 363.40L529.47 362.64L534.19 357.36L537.70 353.58L548.07 352.70L564.54 352.70L566.07 351.69L678.00 351.57" fill="none" stroke="#231f20" stroke-width="1.8" stroke-linejoin="round"/>
<path d="M528.55 360.12v5.4M525.85 362.82h5.4M530.99 358.24v5.4M528.29 360.94h5.4M533.12 355.85v5.4M530.42 358.55h5.4M535.26 353.51v5.4M532.56 356.21h5.4M537.70 350.88v5.4M535.00 353.58h5.4M540.75 350.62v5.4M538.05 353.32h5.4M548.07 350.00v5.4M545.37 352.70h5.4M565.15 349.60v5.4M562.45 352.30h5.4M665.50 348.88v5.4M662.79 351.58h5.4" fill="none" stroke="#231f20" stroke-width="1.45"/>
<path d="M525.50 363.40L529.47 362.90L534.19 357.73L537.70 353.33L543.80 351.06L548.07 349.80L586.50 349.30L678.00 348.92" fill="none" stroke="#231f20" stroke-width="1.8" stroke-linejoin="round" stroke-dasharray="3.2 1.6"/>
<path d="M527.63 360.43v5.4M524.93 363.13h5.4M529.77 359.86v5.4M527.07 362.56h5.4M532.21 357.20v5.4M529.51 359.90h5.4M534.04 355.20v5.4M531.34 357.90h5.4M536.48 352.16v5.4M533.78 354.86h5.4M538.62 350.29v5.4M535.91 352.99h5.4M540.75 349.49v5.4M538.05 352.19h5.4M543.19 348.59v5.4M540.49 351.29h5.4M547.46 347.28v5.4M544.76 349.98h5.4M548.68 347.09v5.4M545.98 349.79h5.4M552.34 347.05v5.4M549.64 349.75h5.4M575.83 346.74v5.4M573.12 349.44h5.4M588.63 346.59v5.4M585.93 349.29h5.4M598.39 346.55v5.4M595.69 349.25h5.4M600.23 346.54v5.4M597.52 349.24h5.4M603.88 346.53v5.4M601.18 349.23h5.4M607.54 346.51v5.4M604.84 349.21h5.4M616.70 346.47v5.4M614.00 349.17h5.4M619.44 346.46v5.4M616.74 349.16h5.4M622.18 346.45v5.4M619.48 349.15h5.4M624.01 346.44v5.4M621.31 349.14h5.4M629.20 346.42v5.4M626.50 349.12h5.4M634.69 346.40v5.4M631.99 349.10h5.4M643.84 346.36v5.4M641.14 349.06h5.4M653.90 346.32v5.4M651.20 349.02h5.4M656.65 346.31v5.4M653.95 349.01h5.4M662.75 346.28v5.4M660.05 348.98h5.4M670.99 346.25v5.4M668.28 348.95h5.4M672.82 346.24v5.4M670.12 348.94h5.4M675.56 346.23v5.4M672.86 348.93h5.4M678.00 346.22v5.4M675.30 348.92h5.4" fill="none" stroke="#231f20" stroke-width="1.45"/>
<text x="484.30" y="237.70" font-size="13.5" font-weight="bold" transform="rotate(0.03 484.30 237.70)" stroke="#231f20" stroke-width="0.25">f</text>
<text x="490.20" y="300.70" font-size="10.2" text-anchor="middle" textLength="77.80" lengthAdjust="spacingAndGlyphs" transform="rotate(-89.97 490.20 300.70)">Extensive cGVHD</text>
<text x="545.50" y="398.70" font-size="10.2" textLength="113.50" lengthAdjust="spacingAndGlyphs" transform="rotate(0.03 545.50 398.70)">Years after transplantation</text>
<text x="547.00" y="242.90" font-size="8.7" textLength="124.10" lengthAdjust="spacingAndGlyphs" transform="rotate(0.03 547.00 242.90)">2-year extensive cGVHD (95%CI)</text>
<text x="547.80" y="254.30" font-size="8.7" textLength="120.10" lengthAdjust="spacingAndGlyphs" transform="rotate(0.03 547.80 254.30)">2011–2015: 9.0% (6.0%–12.7%)</text>
<text x="547.80" y="266.20" font-size="8.7" textLength="124.00" lengthAdjust="spacingAndGlyphs" transform="rotate(0.03 547.80 266.20)">2016–2020: 11.5% (8.2%–15.4%)</text>
<path d="M526.00 251.80H542.60" stroke="#231f20" stroke-width="1.5" fill="none"/>
<path d="M526.00 263.60H532.31M536.79 263.60H543.10" stroke="#231f20" stroke-width="1.5" fill="none"/>
<text x="631.10" y="300.00" font-size="8.7" textLength="34.20" lengthAdjust="spacingAndGlyphs" transform="rotate(0.03 631.10 300.00)"><tspan font-style="italic">P</tspan> = 0.301</text>
<text x="518.70" y="411.60" font-size="8.6" textLength="53.40" lengthAdjust="spacingAndGlyphs" transform="rotate(0.03 518.70 411.60)">Number at risk</text>
<text x="465.20" y="427.50" font-size="8.6" textLength="41.60" lengthAdjust="spacingAndGlyphs" transform="rotate(0.03 465.20 427.50)">2011–2015</text>
<text x="518.66" y="427.50" font-size="8.6" textLength="13.68" lengthAdjust="spacingAndGlyphs" transform="rotate(0.03 518.66 427.50)">297</text>
<text x="551.44" y="427.50" font-size="8.6" textLength="9.12" lengthAdjust="spacingAndGlyphs" transform="rotate(0.03 551.44 427.50)">53</text>
<text x="581.94" y="427.50" font-size="8.6" textLength="9.12" lengthAdjust="spacingAndGlyphs" transform="rotate(0.03 581.94 427.50)">36</text>
<text x="612.44" y="427.50" font-size="8.6" textLength="9.12" lengthAdjust="spacingAndGlyphs" transform="rotate(0.03 612.44 427.50)">24</text>
<text x="642.94" y="427.50" font-size="8.6" textLength="9.12" lengthAdjust="spacingAndGlyphs" transform="rotate(0.03 642.94 427.50)">20</text>
<text x="673.44" y="427.50" font-size="8.6" textLength="9.12" lengthAdjust="spacingAndGlyphs" transform="rotate(0.03 673.44 427.50)">15</text>
<text x="465.20" y="440.70" font-size="8.6" textLength="41.60" lengthAdjust="spacingAndGlyphs" transform="rotate(0.03 465.20 440.70)">2016–2020</text>
<text x="518.66" y="440.70" font-size="8.6" textLength="13.68" lengthAdjust="spacingAndGlyphs" transform="rotate(0.03 518.66 440.70)">308</text>
<text x="551.44" y="440.70" font-size="8.6" textLength="9.12" lengthAdjust="spacingAndGlyphs" transform="rotate(0.03 551.44 440.70)">75</text>
<text x="581.94" y="440.70" font-size="8.6" textLength="9.12" lengthAdjust="spacingAndGlyphs" transform="rotate(0.03 581.94 440.70)">45</text>
<text x="612.44" y="440.70" font-size="8.6" textLength="9.12" lengthAdjust="spacingAndGlyphs" transform="rotate(0.03 612.44 440.70)">32</text>
<text x="642.94" y="440.70" font-size="8.6" textLength="9.12" lengthAdjust="spacingAndGlyphs" transform="rotate(0.03 642.94 440.70)">24</text>
<text x="673.44" y="440.70" font-size="8.6" textLength="9.12" lengthAdjust="spacingAndGlyphs" transform="rotate(0.03 673.44 440.70)">11</text>
</g>
</svg>
</body>
</html>
